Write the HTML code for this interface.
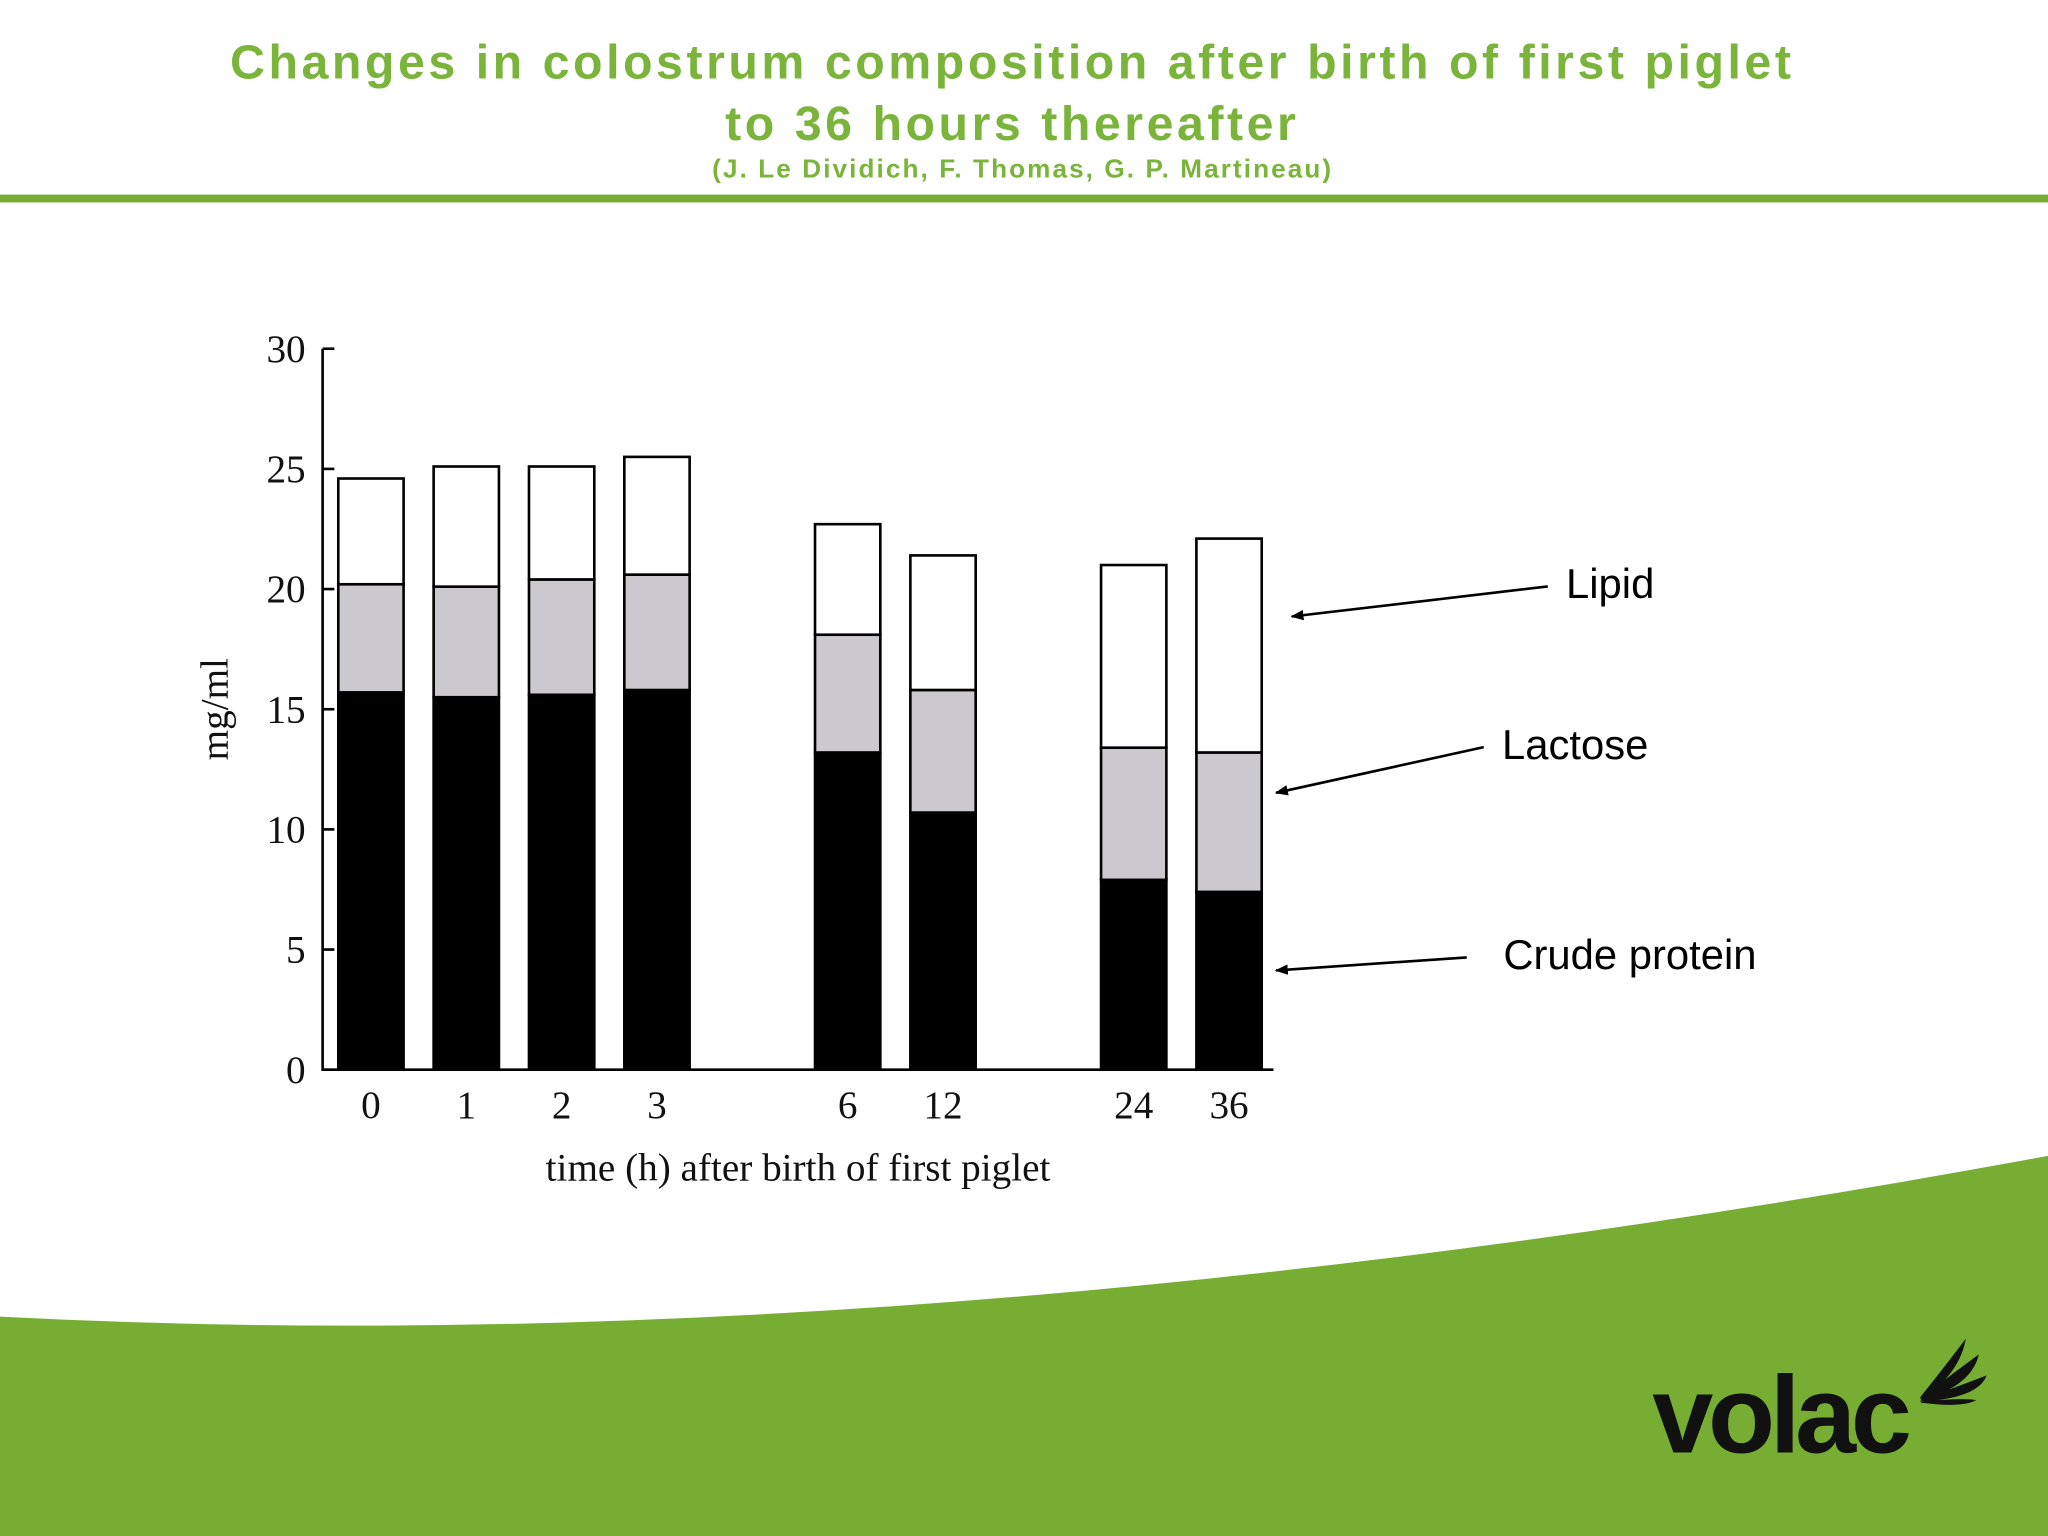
<!DOCTYPE html>
<html><head><meta charset="utf-8"><style>
html,body{margin:0;padding:0;background:#fff}
svg{display:block}
</style></head><body>
<svg width="2048" height="1536" viewBox="0 0 1568 1176" xmlns="http://www.w3.org/2000/svg">
<rect width="1568" height="1176" fill="#fff"/>
<path d="M0,1008 Q700,1045 1568,885 L1568,1176 L0,1176Z" fill="#76ad32"/>
<g font-family="Liberation Sans, sans-serif" font-weight="bold" fill="#7ab43a" text-anchor="middle">
<text x="775" y="60" font-size="37" letter-spacing="2.7">Changes in colostrum composition after birth of first piglet</text>
<text x="775" y="107" font-size="37" letter-spacing="2.7">to 36 hours thereafter</text>
<text x="783" y="136" font-size="20" letter-spacing="1.6">(J. Le Dividich, F. Thomas, G. P. Martineau)</text>
</g>
<rect x="0" y="149" width="1568" height="6" fill="#76ad32"/>
<g id="chart"></g>
<g font-family="Liberation Sans, sans-serif" font-size="32" fill="#000">
<text x="1199" y="458">Lipid</text>
<text x="1150" y="581">Lactose</text>
<text x="1151" y="742">Crude protein</text>
</g>
<defs><marker id="ah" markerWidth="10" markerHeight="8" refX="9" refY="4" orient="auto" markerUnits="userSpaceOnUse"><path d="M0,0 L10,4 L0,8Z" fill="#000"/></marker></defs>
<g stroke="#000" stroke-width="2">
<line x1="1185" y1="449" x2="989" y2="472" marker-end="url(#ah)"/>
<line x1="1136" y1="572" x2="977" y2="607" marker-end="url(#ah)"/>
<line x1="1123" y1="733" x2="977" y2="743" marker-end="url(#ah)"/>
</g>
<g transform="translate(1265,1025)">
<text x="0" y="87" font-family="Liberation Sans, sans-serif" font-size="84" font-weight="bold" letter-spacing="-4" fill="#111">volac</text>
<path d="M205,45 Q225,20 240,0 Q236,25 208,46Z M205,46 Q232,25 250,12 Q245,35 208,47Z M205,47 Q238,35 256,28 Q250,45 208,48Z M205,48 Q240,45 248,47 Q238,53 206,49Z" fill="#111"/>
</g>
<script>
const categories=["0","1","2","3","6","12","24","36"];
const groups=[0,0,0,0,1,1,2,2];
const protein=[15.7,15.5,15.6,15.8,13.2,10.7,7.9,7.4];
const lactose=[4.5,4.6,4.8,4.8,4.9,5.1,5.5,5.8];
const lipid=[4.4,5.0,4.7,4.9,4.6,5.6,7.6,8.9];
const yTicks=[0,5,10,15,20,25,30];
const NS="http://www.w3.org/2000/svg";
const g=document.getElementById('chart');
const y=v=>819-v*18.4;
const x=i=>284+73*(i+groups[i]);
function mk(t,a,p){const e=document.createElementNS(NS,t);for(const k in a)e.setAttribute(k,a[k]);(p||g).appendChild(e);return e;}
categories.forEach((c,i)=>{
  const cx=x(i);let base=0;
  [[protein[i],'#000','protein'],[lactose[i],'#cbc9cd','lactose'],[lipid[i],'#fff','lipid']].forEach(s=>{
    const r=mk('rect',{x:cx-25,y:y(base+s[0]),width:50,height:s[0]*18.4,fill:s[1],stroke:'#000','stroke-width':2});
    
    
    base+=s[0];
  });
  const t=mk('text',{x:cx,y:856,'text-anchor':'middle','font-family':'Liberation Serif, serif','font-size':30,fill:'#111'});
  t.textContent=c;
  
  
});
const ax=mk('path',{d:'M247,267 L247,819 L975,819',fill:'none',stroke:'#000','stroke-width':2});


yTicks.forEach(v=>{
  mk('line',{x1:247,x2:256,y1:y(v),y2:y(v),stroke:'#000','stroke-width':2});
  const t=mk('text',{x:234,y:y(v)+10,'text-anchor':'end','font-family':'Liberation Serif, serif','font-size':30,fill:'#111'});
  t.textContent=v;
  
  
});
const yt=mk('text',{x:0,y:0,transform:'translate(174,543) rotate(-90)','text-anchor':'middle','font-family':'Liberation Serif, serif','font-size':30,fill:'#111'});
yt.textContent='mg/ml';


const xt=mk('text',{x:611,y:904,'text-anchor':'middle','font-family':'Liberation Serif, serif','font-size':30,fill:'#111'});
xt.textContent='time (h) after birth of first piglet';


</script>
</svg>
</body></html>
